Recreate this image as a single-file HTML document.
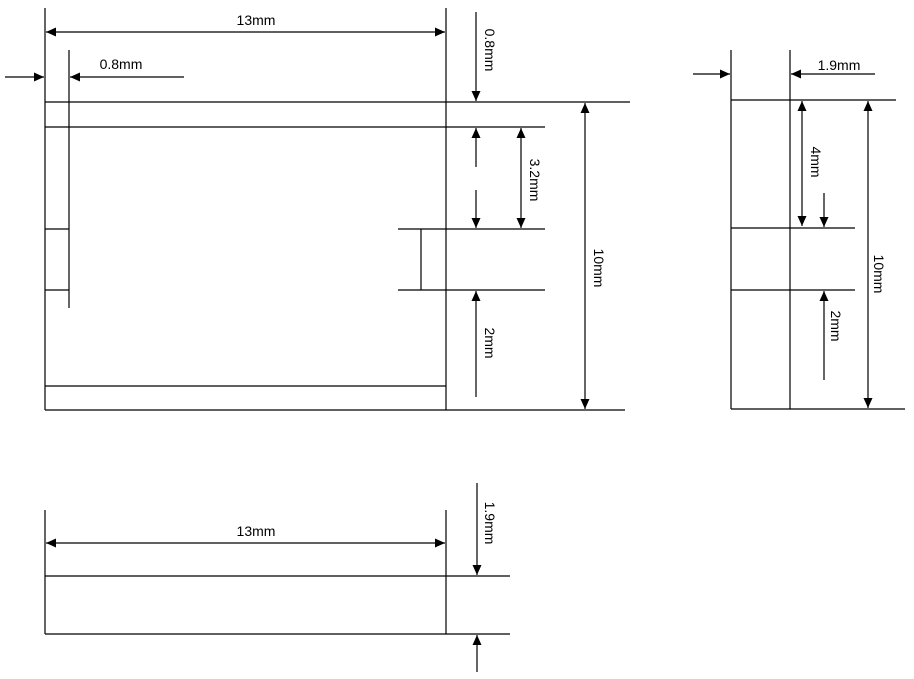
<!DOCTYPE html>
<html><head><meta charset="utf-8"><style>
html,body{margin:0;padding:0;background:#fff;}
svg{display:block;}
text{font-family:"Liberation Sans",sans-serif;font-size:14px;fill:#000;}
</style></head><body>
<svg width="914" height="679" viewBox="0 0 914 679" xmlns="http://www.w3.org/2000/svg">
<defs>
<marker id="a" markerWidth="10" markerHeight="9" refX="10" refY="4.5" orient="auto" markerUnits="userSpaceOnUse">
<path d="M0,0 L10,4.5 L0,9 Z" fill="#000"/></marker>
<marker id="s" markerWidth="10" markerHeight="9" refX="0" refY="4.5" orient="auto" markerUnits="userSpaceOnUse">
<path d="M10,0 L0,4.5 L10,9 Z" fill="#000"/></marker>
</defs>
<g stroke="#000" stroke-width="1.2" fill="none">
<line x1="45" y1="8" x2="45" y2="410"/>
<line x1="446" y1="8" x2="446" y2="410"/>
<line x1="69" y1="50" x2="69" y2="308"/>
<line x1="45" y1="102" x2="630" y2="102"/>
<line x1="45" y1="127" x2="545" y2="127"/>
<line x1="45" y1="229" x2="69" y2="229"/>
<line x1="45" y1="290" x2="69" y2="290"/>
<line x1="398" y1="229" x2="545" y2="229"/>
<line x1="398" y1="290" x2="545" y2="290"/>
<line x1="421" y1="229" x2="421" y2="290"/>
<line x1="45" y1="386" x2="446" y2="386"/>
<line x1="45" y1="410" x2="625" y2="410"/>
<line x1="46" y1="32" x2="445" y2="32" marker-start="url(#s)" marker-end="url(#a)"/>
<line x1="5" y1="77" x2="44" y2="77" marker-end="url(#a)"/>
<line x1="184" y1="77" x2="70" y2="77" marker-end="url(#a)"/>
<line x1="476" y1="12" x2="476" y2="101" marker-end="url(#a)"/>
<line x1="476" y1="167" x2="476" y2="128" marker-end="url(#a)"/>
<line x1="476" y1="190" x2="476" y2="228" marker-end="url(#a)"/>
<line x1="521" y1="128" x2="521" y2="228" marker-start="url(#s)" marker-end="url(#a)"/>
<line x1="476" y1="397" x2="476" y2="291" marker-end="url(#a)"/>
<line x1="585" y1="103" x2="585" y2="409" marker-start="url(#s)" marker-end="url(#a)"/>
<line x1="731" y1="50" x2="731" y2="409"/>
<line x1="790" y1="50" x2="790" y2="409"/>
<line x1="731" y1="100" x2="896" y2="100"/>
<line x1="731" y1="228" x2="855" y2="228"/>
<line x1="731" y1="290" x2="855" y2="290"/>
<line x1="731" y1="409" x2="905" y2="409"/>
<line x1="693" y1="74" x2="730" y2="74" marker-end="url(#a)"/>
<line x1="875" y1="74" x2="791" y2="74" marker-end="url(#a)"/>
<line x1="802" y1="101" x2="802" y2="226" marker-start="url(#s)" marker-end="url(#a)"/>
<line x1="824" y1="193" x2="824" y2="227" marker-end="url(#a)"/>
<line x1="868" y1="101" x2="868" y2="408" marker-start="url(#s)" marker-end="url(#a)"/>
<line x1="824" y1="380" x2="824" y2="291" marker-end="url(#a)"/>
<line x1="45" y1="510" x2="45" y2="634"/>
<line x1="446" y1="510" x2="446" y2="634"/>
<line x1="45" y1="576" x2="510" y2="576"/>
<line x1="45" y1="634" x2="510" y2="634"/>
<line x1="46" y1="543" x2="445" y2="543" marker-start="url(#s)" marker-end="url(#a)"/>
<line x1="477" y1="483" x2="477" y2="575" marker-end="url(#a)"/>
<line x1="477" y1="672" x2="477" y2="635" marker-end="url(#a)"/>
</g>
<text x="256" y="25" text-anchor="middle">13mm</text>
<text x="121" y="69" text-anchor="middle">0.8mm</text>
<text x="839" y="70" text-anchor="middle">1.9mm</text>
<text x="256" y="536" text-anchor="middle">13mm</text>
<g>
<text transform="translate(485,50) rotate(90)" text-anchor="middle">0.8mm</text>
<text transform="translate(530,180) rotate(90)" text-anchor="middle">3.2mm</text>
<text transform="translate(485,343) rotate(90)" text-anchor="middle">2mm</text>
<text transform="translate(594,268) rotate(90)" text-anchor="middle">10mm</text>
<text transform="translate(811,162) rotate(90)" text-anchor="middle">4mm</text>
<text transform="translate(831,326) rotate(90)" text-anchor="middle">2mm</text>
<text transform="translate(874,274) rotate(90)" text-anchor="middle">10mm</text>
<text transform="translate(485,523) rotate(90)" text-anchor="middle">1.9mm</text>
</g>
</svg>
</body></html>
